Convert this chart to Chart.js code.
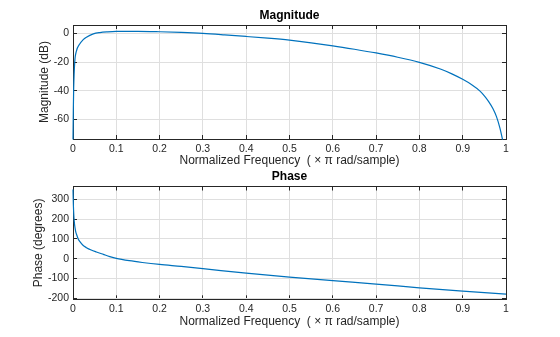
<!DOCTYPE html>
<html>
<head>
<meta charset="utf-8">
<script src="https://cdn.jsdelivr.net/npm/chart.js@4.4.0/dist/chart.umd.min.js"></script>
<style>
  html, body { margin: 0; padding: 0; background: #fff; }
  #wrap { position: relative; width: 560px; height: 337px; overflow: hidden; }
  canvas { position: absolute; left: 0; }
  #magChart { top: 0; }
  #phaseChart { top: 165px; }
</style>
</head>
<body>
<div id="wrap">
  <canvas id="magChart" width="560" height="170"></canvas>
  <canvas id="phaseChart" width="560" height="172"></canvas>
</div>
<script>
// tick labels
const freqTicks = [0, 0.1, 0.2, 0.3, 0.4, 0.5, 0.6, 0.7, 0.8, 0.9, 1];
const magTicks = [-60, -40, -20, 0];
const phaseTicks = [-200, -100, 0, 100, 200, 300];

// magnitude response
const magFreq = [0, 0.0008, 0.0016, 0.004, 0.0077, 0.0155, 0.023, 0.031, 0.047, 0.062, 0.08, 0.1,
    0.15, 0.2, 0.25, 0.3, 0.35, 0.4, 0.45, 0.5, 0.55, 0.6, 0.65, 0.7, 0.75, 0.8, 0.85, 0.875, 0.9,
    0.92, 0.94, 0.95, 0.96, 0.97, 0.978, 0.986, 0.992];
const magDb = [-74, -52, -38, -20, -12.5, -7.3, -4.5, -2.6, -0.3, 0.6, 1.1, 1.4,
    1.5, 1.2, 0.7, 0, -1, -2.1, -3.3, -4.7, -6.5, -8.6, -11, -13.6, -16.6, -20.2, -25, -28.2, -32,
    -35.6, -40.2, -43.5, -47.5, -52.5, -58, -66, -74];

// phase response
const phaseFreq = [0, 0.0008, 0.002, 0.0035, 0.0046, 0.0065, 0.0085, 0.012, 0.016, 0.023, 0.031, 0.042,
    0.054, 0.07, 0.085, 0.1, 0.13, 0.16, 0.2, 0.25, 0.3, 0.4, 0.5, 0.6, 0.7, 0.8, 0.9, 1];
const phaseDeg = [350, 275, 215, 175, 157, 135, 121, 100, 86, 68, 56, 44,
    34, 22, 11, 2, -10, -19, -29, -39, -50, -73, -93, -111, -128, -147, -164, -179];

const lineColor = "#0072BD";
const axisColor = "#262626";
const gridColor = "#dfdfdf";
const fontFamily = "'Liberation Sans', Arial, Helvetica, sans-serif";
const xLabel = "Normalized Frequency  ( \u00D7 \u03C0 rad/sample)";

function fixTicks(values) {
    return scale => { scale.ticks = values.map(v => ({ value: v })); };
}

function makeChart(id, cfg) {
    const points = cfg.xs.map((x, i) => ({ x: x, y: cfg.ys[i] }));
    const ctx = document.getElementById(id).getContext("2d");
    return new Chart(ctx, {
        type: "line",
        data: {
            datasets: [{
                data: points,
                borderColor: lineColor,
                borderWidth: 1.2,
                pointRadius: 0,
                cubicInterpolationMode: "monotone",
                clip: 2,
                fill: false
            }]
        },
        options: {
            responsive: false,
            animation: false,
            devicePixelRatio: 1,
            layout: { padding: { left: 0, right: 54, top: 0, bottom: 0 } },
            plugins: {
                legend: { display: false },
                tooltip: { enabled: false },
                title: {
                    display: true,
                    text: cfg.title,
                    color: "#000",
                    fullSize: false,
                    font: { family: fontFamily, size: 12, weight: "bold" },
                    padding: cfg.titlePad
                }
            },
            scales: {
                x: {
                    type: "linear",
                    position: "bottom",
                    min: 0,
                    max: 1,
                    afterBuildTicks: fixTicks(freqTicks),
                    afterFit: s => { s.height = cfg.xHeight; },
                    grid: { color: gridColor, tickColor: axisColor, tickLength: -4 },
                    border: { color: axisColor, width: 1 },
                    ticks: {
                        padding: 8,
                        color: axisColor,
                        autoSkip: false,
                        maxRotation: 0,
                        font: { family: fontFamily, size: 10.5 },
                        callback: v => String(v)
                    },
                    title: {
                        display: true,
                        text: xLabel,
                        color: axisColor,
                        font: { family: fontFamily, size: 12 },
                        padding: { top: 0, bottom: cfg.xTitlePad }
                    }
                },
                x2: {
                    type: "linear",
                    position: "top",
                    min: 0,
                    max: 1,
                    afterBuildTicks: fixTicks(freqTicks),
                    afterFit: s => { s.height = 0; },
                    grid: { drawOnChartArea: false, tickColor: axisColor, tickLength: -4 },
                    border: { color: axisColor, width: 1 },
                    ticks: { display: false }
                },
                y: {
                    type: "linear",
                    position: "left",
                    min: cfg.yMin,
                    max: cfg.yMax,
                    afterBuildTicks: fixTicks(cfg.yTicks),
                    afterFit: s => { s.width = 73; },
                    grid: { color: gridColor, tickColor: axisColor, tickLength: -4 },
                    border: { color: axisColor, width: 1 },
                    ticks: {
                        padding: 8,
                        color: axisColor,
                        font: { family: fontFamily, size: 10.5 },
                        callback: v => String(v)
                    },
                    title: {
                        display: true,
                        text: cfg.yLabel,
                        color: axisColor,
                        font: { family: fontFamily, size: 12 },
                        padding: { top: cfg.yTitlePad, bottom: 0 }
                    }
                },
                y2: {
                    type: "linear",
                    position: "right",
                    min: cfg.yMin,
                    max: cfg.yMax,
                    afterBuildTicks: fixTicks(cfg.yTicks),
                    afterFit: s => { s.width = 0; },
                    grid: { drawOnChartArea: false, tickColor: axisColor, tickLength: -4 },
                    border: { color: axisColor, width: 1 },
                    ticks: { display: false }
                }
            }
        }
    });
}

makeChart("magChart", {
    title: "Magnitude",
    titlePad: { top: 8.6, bottom: 2 },
    xs: magFreq,
    ys: magDb,
    yMin: -73.6,
    yMax: 5.9,
    yTicks: magTicks,
    yLabel: "Magnitude (dB)",
    yTitlePad: 37.8,
    xHeight: 31,
    xTitlePad: 2
});

makeChart("phaseChart", {
    title: "Phase",
    titlePad: { top: 4.4, bottom: 2.7 },
    xs: phaseFreq,
    ys: phaseDeg,
    yMin: -205,
    yMax: 365,
    yTicks: phaseTicks,
    yLabel: "Phase (degrees)",
    yTitlePad: 31,
    xHeight: 37.7,
    xTitlePad: 8
});
</script>
</body>
</html>
